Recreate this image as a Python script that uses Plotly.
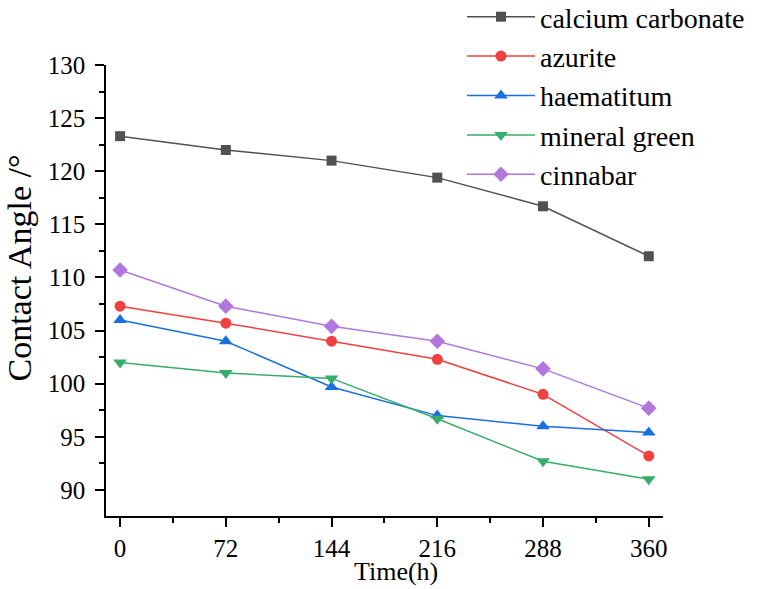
import plotly.graph_objects as go

time_h = [0, 72, 144, 216, 288, 360]
series_names = ["calcium carbonate", "azurite", "haematitum", "mineral green", "cinnabar"]
calcium_carbonate = [123.3, 122.0, 121.0, 119.4, 116.7, 112.0]
azurite = [107.3, 105.7, 104.0, 102.3, 99.0, 93.2]
haematitum = [106.0, 104.0, 99.7, 97.0, 96.0, 95.4]
mineral_green = [102.0, 101.0, 100.5, 96.7, 92.7, 91.0]
cinnabar = [110.7, 107.3, 105.4, 104.0, 101.4, 97.7]
x_ticks = [0, 72, 144, 216, 288, 360]
y_ticks = [90, 95, 100, 105, 110, 115, 120, 125, 130]

values = [calcium_carbonate, azurite, haematitum, mineral_green, cinnabar]
colors = ["#515151", "#F14040", "#1A6FDF", "#37AD6B", "#B177DE"]
symbols = ["square", "circle", "triangle-up", "triangle-down", "diamond"]
sizes = [10, 11, 12, 12, 12]

font = "Liberation Serif"

fig = go.Figure()
for name, vals, c, s, sz in zip(series_names, values, colors, symbols, sizes):
    fig.add_trace(go.Scatter(
        x=time_h, y=vals, name=name, mode="lines+markers",
        line=dict(color=c, width=1.5),
        marker=dict(symbol=s, size=sz, color=c, line=dict(width=0)),
    ))

axis_common = dict(
    showline=True, linecolor="black", linewidth=1.5, mirror=False,
    ticks="outside", ticklen=9, tickwidth=1.5, tickcolor="black",
    showgrid=False, zeroline=False,
    tickfont=dict(family=font, size=25, color="black"),
)

fig.update_xaxes(range=[-9.6, 369.7], tickvals=x_ticks,
                 minor=dict(ticks="outside", ticklen=5, tickwidth=1.5, tickcolor="black",
                            tick0=0, dtick=36, showgrid=False),
                 **axis_common)
fig.update_yaxes(range=[87.55, 130], tickvals=y_ticks, ticklabelstandoff=5,
                 minor=dict(ticks="outside", ticklen=5, tickwidth=1.5, tickcolor="black",
                            tick0=0, dtick=2.5, showgrid=False),
                 **axis_common)

fig.add_annotation(text="Contact Angle /°", xref="paper", yref="paper",
                   x=(19 - 106) / 557, y=(516 - 268.5) / 451, textangle=-90,
                   showarrow=False, xanchor="center", yanchor="middle",
                   font=dict(family=font, size=34, color="black"))
fig.add_annotation(text="Time(h)", xref="paper", yref="paper",
                   x=(396 - 106) / 557, y=(516 - 571) / 451,
                   showarrow=False, xanchor="center", yanchor="middle",
                   font=dict(family=font, size=26, color="black"))

fig.update_layout(
    width=767, height=589,
    margin=dict(l=106, r=104, t=65, b=73, autoexpand=False),
    paper_bgcolor="white", plot_bgcolor="white",
    font=dict(family=font, color="black"),
    showlegend=True,
    legend=dict(x=(462 - 106) / 557, y=(516 + 8) / 451, xanchor="left", yanchor="top",
                font=dict(family=font, size=28, color="black"),
                bgcolor="rgba(0,0,0,0)", tracegroupgap=0, itemwidth=68),
)

fig.write_html("out.html")
